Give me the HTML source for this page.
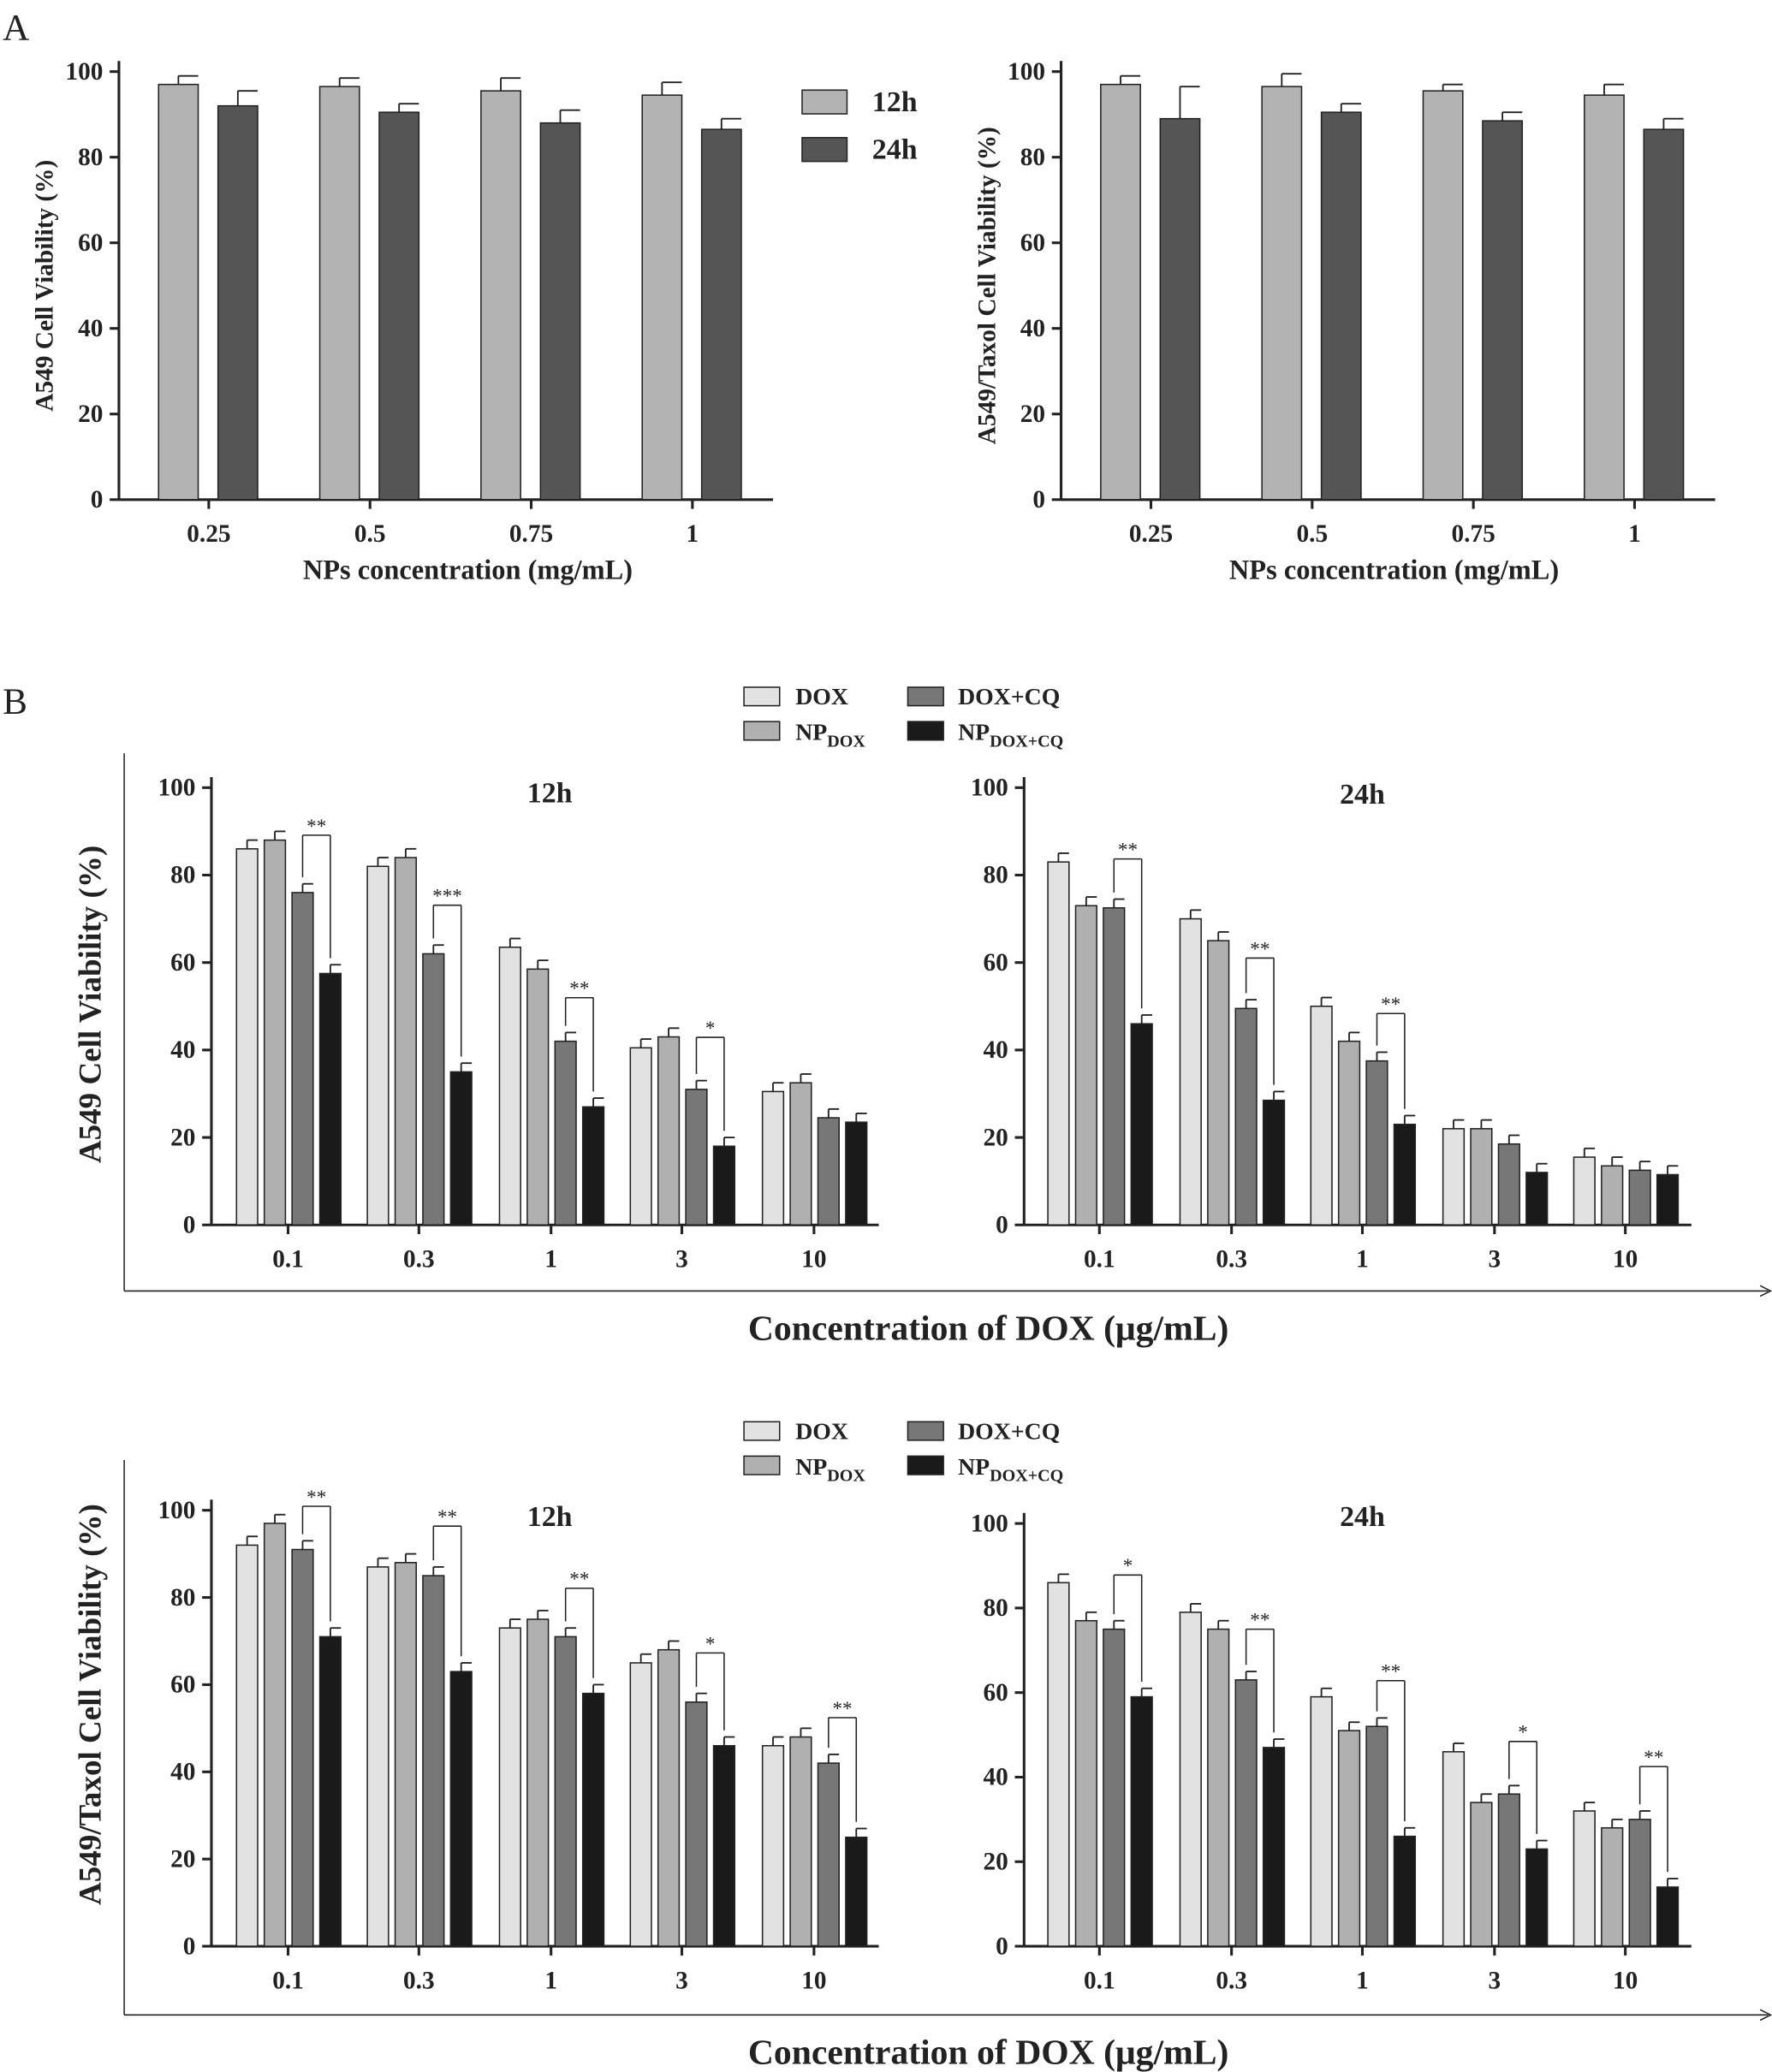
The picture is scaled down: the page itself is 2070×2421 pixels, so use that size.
<!DOCTYPE html>
<html><head><meta charset="utf-8">
<style>
html,body{margin:0;padding:0;background:#fff;}
svg{display:block;}
text{font-family:"Liberation Serif",serif;font-weight:bold;fill:#222;}
</style></head>
<body>
<svg id="s" width="2070" height="2421" viewBox="0 0 1341 1568" xmlns="http://www.w3.org/2000/svg"></svg>
<script>
var o='';
function T(x,y,t,sz,anc,extra){o+='<text x="'+x+'" y="'+y+'" font-size="'+sz+'" text-anchor="'+(anc||'middle')+'" '+(extra||'')+'>'+t+'</text>';}
function L(x1,y1,x2,y2,w){o+='<line x1="'+x1+'" y1="'+y1+'" x2="'+x2+'" y2="'+y2+'" stroke="#222" stroke-width="'+(w||1.5)+'"/>';}
function R(x,y,w,h,f){o+='<rect x="'+x+'" y="'+y+'" width="'+w+'" height="'+h+'" fill="'+f+'" stroke="#222" stroke-width="1"/>';}
function axes(ax,x2,y0,y100,labelX,labelT,labelSz,cats,centers,tickSz){
  var s=(y0-y100)/100;
  L(ax,y100-8,ax,y0,2);L(ax,y0,x2,y0,2);
  for(var v=0;v<=100;v+=20){var y=y0-v*s;L(ax-7,y,ax,y,2);T(ax-12,y+6,v,tickSz,'end');}
  for(var i=0;i<cats.length;i++){L(centers[i],y0,centers[i],y0+7,2);T(centers[i],y0+32,cats[i],tickSz);}
  return s;
}
function ebar(x,w,y0,s,v,e,fill){var top=y0-v*s;R(x,top,w,v*s,fill);var cx=x+w/2;L(cx,top,cx,top-e*s,1.2);L(cx,top-e*s,cx+w/2,top-e*s,1.2);}
T(2,30,'A',28,'start','style="font-weight:normal"');
function panelA(ax,centers,vals,errs,ylab,xc){
  var y0=378,y100=54;var s=axes(ax,ax+495,y0,y100,0,'',0,['0.25','0.5','0.75','1'],centers,19);
  for(var i=0;i<4;i++){ebar(centers[i]-38,30,y0,s,vals[i][0],errs[i][0],'#b3b3b3');ebar(centers[i]+7,30,y0,s,vals[i][1],errs[i][1],'#555');}
  T(xc,438,'NPs concentration (mg/mL)',21);
  o+='<text transform="translate('+(ax-50)+',216) rotate(-90)" font-size="19" text-anchor="middle">'+ylab+'</text>';
}
panelA(90,[158,280,402,524],[[97,92],[96.5,90.5],[95.5,88],[94.5,86.5]],[[2,3.5],[2,2],[3,3],[3,2.5]],'A549 Cell Viability (%)',354);
panelA(803,[871,993,1115,1237],[[97,89],[96.5,90.5],[95.5,88.5],[94.5,86.5]],[[2,7.5],[3,2],[1.5,2],[2.5,2.5]],'A549/Taxol Cell Viability (%)',1055);
R(607,68,34,18,'#b3b3b3');R(607,104,34,18,'#555');T(660,84,'12h',22,'start');T(660,120,'24h',22,'start');
T(2,540,'B',28,'start','style="font-weight:normal"');
var cols=['#e2e2e2','#b0b0b0','#777','#1a1a1a'];
function legend(dy){R(563,520+dy,27,14,cols[0]);R(563,546+dy,27,14,cols[1]);R(687,520+dy,27,14,cols[2]);R(687,546+dy,27,14,cols[3]);
 T(602,533+dy,'DOX',18,'start');T(602,560+dy,'NP<tspan font-size="13" dy="5">DOX</tspan>',18,'start');
 T(725,533+dy,'DOX+CQ',18,'start');T(725,560+dy,'NP<tspan font-size="13" dy="5">DOX+CQ</tspan>',18,'start');}
function sub(ax,y0,y100,centers,vals,brs,title,ty){
  var s=axes(ax,ax+505,y0,y100,0,'',0,['0.1','0.3','1','3','10'],centers,19);
  for(var i=0;i<5;i++){for(var j=0;j<4;j++){ebar(centers[i]-39+21*j,16,y0,s,vals[i][j],2,cols[j]);}}
  for(var k=0;k<brs.length;k++){var b=brs[k];var i=b[0];var yb=b[1];var x3=centers[i]+3+8,x4=centers[i]+24+8;
    var t3=y0-(vals[i][2]+2)*s-5,t4=y0-(vals[i][3]+2)*s-5;
    L(x3,t3,x3,yb,1);L(x3,yb,x4,yb,1);L(x4,yb,x4,t4,1);T((x3+x4)/2,yb-2,b[2],15,'middle','style="font-weight:normal"');}
  T(ax+256,ty,title,22);
}
function outer(ytop,ybot,ylab,yc){L(94,ytop,94,ybot,1);L(94,ybot,1338,ybot,1);o+='<path d="M1332,'+(ybot-4)+' L1340,'+ybot+' L1332,'+(ybot+4)+'" fill="none" stroke="#222"/>';
 T(748,ybot+37,'Concentration of DOX (μg/mL)',27);
 o+='<text transform="translate(76,'+yc+') rotate(-90)" font-size="24" text-anchor="middle">'+ylab+'</text>';}
legend(0);
outer(570,977,'A549 Cell Viability (%)',760);
sub(160,927,596,[218,317,417,516,616],[[86,88,76,57.5],[82,84,62,35],[63.5,58.5,42,27],[40.5,43,31,18],[30.5,32.5,24.5,23.5]],[[0,632,'**'],[1,685,'***'],[2,755,'**'],[3,785,'*']],'12h',607);
sub(775,927,596,[832,932,1031,1131,1230],[[83,73,72.5,46],[70,65,49.5,28.5],[50,42,37.5,23],[22,22,18.5,12],[15.5,13.5,12.5,11.5]],[[0,650,'**'],[1,725,'**'],[2,767,'**']],'24h',608);
legend(556);
outer(1105,1525,'A549/Taxol Cell Viability (%)',1290);
sub(160,1473,1143,[218,317,417,516,616],[[92,97,91,71],[87,88,85,63],[73,75,71,58],[65,68,56,46],[46,48,42,25]],[[0,1140,'**'],[1,1155,'**'],[2,1202,'**'],[3,1251,'*'],[4,1300,'**']],'12h',1155);
sub(775,1473,1153,[832,932,1031,1131,1230],[[86,77,75,59],[79,75,63,47],[59,51,52,26],[46,34,36,23],[32,28,30,14]],[[0,1192,'*'],[1,1233,'**'],[2,1272,'**'],[3,1318,'*'],[4,1337,'**']],'24h',1155);
document.getElementById('s').innerHTML=o;
</script>
</body></html>
